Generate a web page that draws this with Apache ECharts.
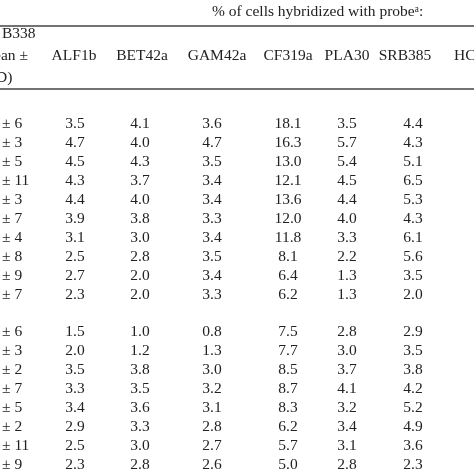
<!DOCTYPE html><html><head><meta charset="utf-8"><script src="https://cdn.jsdelivr.net/npm/echarts@6/dist/echarts.min.js"></script>
<style>html,body{margin:0;background:#fff}#c{width:474px;height:474px}</style></head><body><div id="c"></div><script>
const probes=['ALF1b','BET42a','GAM42a','CF319a','PLA30','SRB385','HC'];
const sdGroup1=['± 6','± 3','± 5','± 11','± 3','± 7','± 4','± 8','± 9','± 7'];
const sdGroup2=['± 6','± 3','± 2','± 7','± 5','± 2','± 11','± 9'];
const group1=[[3.5,4.1,3.6,18.1,3.5,4.4],[4.7,4.0,4.7,16.3,5.7,4.3],[4.5,4.3,3.5,13.0,5.4,5.1],[4.3,3.7,3.4,12.1,4.5,6.5],[4.4,4.0,3.4,13.6,4.4,5.3],[3.9,3.8,3.3,12.0,4.0,4.3],[3.1,3.0,3.4,11.8,3.3,6.1],[2.5,2.8,3.5,8.1,2.2,5.6],[2.7,2.0,3.4,6.4,1.3,3.5],[2.3,2.0,3.3,6.2,1.3,2.0]];
const group2=[[1.5,1.0,0.8,7.5,2.8,2.9],[2.0,1.2,1.3,7.7,3.0,3.5],[3.5,3.8,3.0,8.5,3.7,3.8],[3.3,3.5,3.2,8.7,4.1,4.2],[3.4,3.6,3.1,8.3,3.2,5.2],[2.9,3.3,2.8,6.2,3.4,4.9],[2.5,3.0,2.7,5.7,3.1,3.6],[2.3,2.8,2.6,5.0,2.8,2.3]];
const F='"Liberation Serif","DejaVu Serif",serif', C='#222';
const headX=[74,142,217,288,347,405,454], numX=[75,140,212,288,347,413];
const g=[];
function t(x,y,s,align){g.push({type:'text',x:x,y:y,style:{text:s,fontFamily:F,fontSize:15.5,fill:C,align:align||'center',verticalAlign:'middle'}});}
t(212,12,'% of cells hybridized with probe\u1d43:','left');
g.push({type:'line',shape:{x1:0,y1:26,x2:474,y2:26},style:{stroke:'#444',lineWidth:1.5}});
g.push({type:'line',shape:{x1:0,y1:89,x2:474,y2:89},style:{stroke:'#444',lineWidth:1.5}});
t(2,34,'B338','left');t(-6,56,'ean ±','left');t(-4,78,'D)','left');
probes.forEach((p,i)=>t(headX[i],56,p,i===6?'left':'center'));
function rows(sd,data,y0){data.forEach((r,j)=>{const y=y0+j*19;t(2,y,sd[j],'left');r.forEach((v,i)=>t(numX[i],y,v.toFixed(1)));});}
rows(sdGroup1,group1,124);rows(sdGroup2,group2,332);
const ch=echarts.init(document.getElementById('c'));
ch.setOption({animation:false,graphic:g});
</script></body></html>
